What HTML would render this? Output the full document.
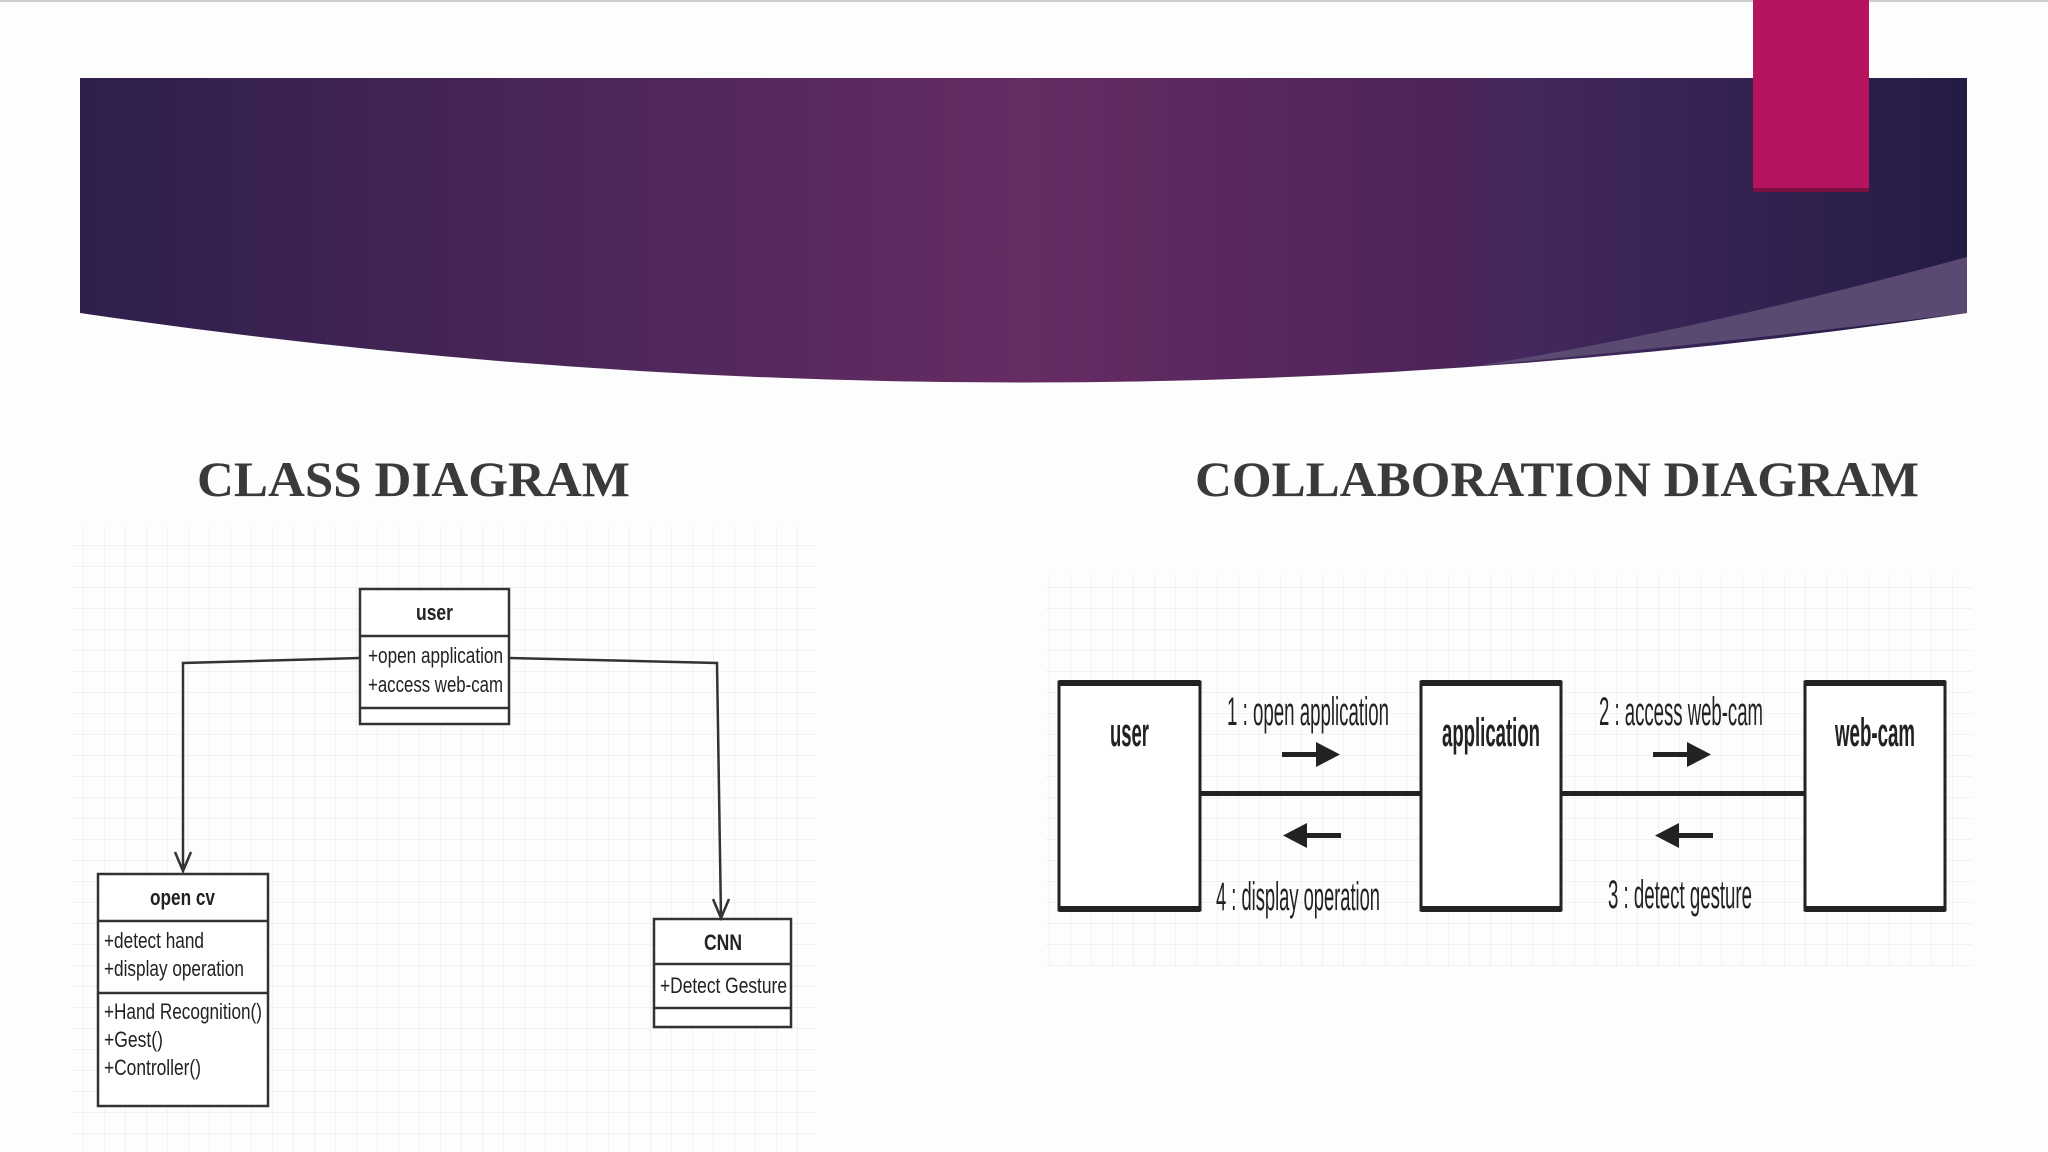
<!DOCTYPE html>
<html><head><meta charset="utf-8"><style>
html,body{margin:0;padding:0;background:#fff;}
svg{display:block}
</style></head><body>
<svg width="2048" height="1152" viewBox="0 0 2048 1152" xmlns="http://www.w3.org/2000/svg">
<defs>
<linearGradient id="bg" x1="0" x2="1" y1="0" y2="0">
<stop offset="0" stop-color="#2e1f4c"/>
<stop offset="0.25" stop-color="#4a2658"/>
<stop offset="0.5" stop-color="#662c64"/>
<stop offset="0.72" stop-color="#4e2458"/>
<stop offset="0.76" stop-color="#44285e"/>
<stop offset="1" stop-color="#241c45"/>
</linearGradient>
<pattern id="grid" width="21" height="21" patternUnits="userSpaceOnUse">
<path d="M21 0V21M0 21H21" stroke="#e6e6e6" stroke-width="1" fill="none"/>
</pattern>
</defs>
<rect width="2048" height="1152" fill="#fdfdfd"/>
<rect width="2048" height="2" fill="#ccc"/>
<path d="M80 78 H1967 V313 Q1024 452 80 313 Z" fill="url(#bg)"/>
<path d="M1967 257 Q1700 330 1476 366 Q1750 340 1967 313 Z" fill="#5a4a72"/>
<rect x="1753" y="0" width="116" height="192" fill="#b71460"/>
<rect x="1753" y="188" width="116" height="4" fill="#7a1040"/>
<g font-family="Liberation Serif, serif" font-weight="bold" fill="#3a3a3a" font-size="50">
<text x="197" y="496" textLength="433" lengthAdjust="spacingAndGlyphs">CLASS DIAGRAM</text>
<text x="1195" y="496" textLength="724" lengthAdjust="spacingAndGlyphs">COLLABORATION DIAGRAM</text>
</g>
<rect x="72" y="526" width="744" height="626" fill="url(#grid)"/>
<g fill="#fff" stroke="#333" stroke-width="2.5">
<rect x="360" y="589" width="149" height="135"/>
<rect x="98" y="874" width="170" height="232"/>
<rect x="654" y="919" width="137" height="108"/>
</g>
<g stroke="#333" stroke-width="2.5" fill="none">
<path d="M360 636H509M360 708H509M98 921H268M98 993H268M654 964H791M654 1008H791"/>
<path d="M360 658L183 663V871M175 852L183 871L191 852"/>
<path d="M509 658L717 663L721 918M713 899L721 918L729 899"/>
</g>
<g font-family="Liberation Sans, sans-serif" fill="#222" font-size="22" lengthAdjust="spacingAndGlyphs">
<text x="416" y="620" font-weight="bold" textLength="37" lengthAdjust="spacingAndGlyphs">user</text>
<text x="368" y="663" textLength="135" lengthAdjust="spacingAndGlyphs">+open application</text>
<text x="368" y="692" textLength="135" lengthAdjust="spacingAndGlyphs">+access web-cam</text>
<text x="150" y="905" font-weight="bold" textLength="65" lengthAdjust="spacingAndGlyphs">open cv</text>
<text x="104" y="948" textLength="100" lengthAdjust="spacingAndGlyphs">+detect hand</text>
<text x="104" y="976" textLength="140" lengthAdjust="spacingAndGlyphs">+display operation</text>
<text x="104" y="1019" textLength="158" lengthAdjust="spacingAndGlyphs">+Hand Recognition()</text>
<text x="104" y="1047" textLength="59" lengthAdjust="spacingAndGlyphs">+Gest()</text>
<text x="104" y="1075" textLength="97" lengthAdjust="spacingAndGlyphs">+Controller()</text>
<text x="704" y="950" font-weight="bold" textLength="38" lengthAdjust="spacingAndGlyphs">CNN</text>
<text x="660" y="993" textLength="127" lengthAdjust="spacingAndGlyphs">+Detect Gesture</text>
</g>
<rect x="1045" y="575" width="927" height="391" fill="url(#grid)"/>
<g fill="#fff" stroke="#222" stroke-width="3">
<rect x="1059" y="682" width="141" height="228"/>
<rect x="1421" y="682" width="140" height="228"/>
<rect x="1805" y="682" width="140" height="228"/>
</g>
<g fill="#222">
<rect x="1059" y="680" width="141" height="6"/><rect x="1059" y="906" width="141" height="6"/>
<rect x="1421" y="680" width="140" height="6"/><rect x="1421" y="906" width="140" height="6"/>
<rect x="1805" y="680" width="140" height="6"/><rect x="1805" y="906" width="140" height="6"/>
<rect x="1200" y="791" width="221" height="5"/>
<rect x="1561" y="791" width="244" height="5"/>
<rect x="1282" y="752" width="36" height="5"/><path d="M1316 742L1340 754.5L1316 767Z"/>
<rect x="1653" y="752" width="36" height="5"/><path d="M1687 742L1711 754.5L1687 767Z"/>
<rect x="1305" y="833" width="36" height="5"/><path d="M1307 823L1283 835.5L1307 848Z"/>
<rect x="1677" y="833" width="36" height="5"/><path d="M1679 823L1655 835.5L1679 848Z"/>
</g>
<g font-family="Liberation Sans, sans-serif" fill="#222" font-size="40">
<text x="1110" y="746" font-weight="bold" textLength="39" lengthAdjust="spacingAndGlyphs">user</text>
<text x="1442" y="746" font-weight="bold" textLength="98" lengthAdjust="spacingAndGlyphs">application</text>
<text x="1835" y="746" font-weight="bold" textLength="80" lengthAdjust="spacingAndGlyphs">web-cam</text>
<text x="1227" y="725" textLength="162" lengthAdjust="spacingAndGlyphs">1 : open application</text>
<text x="1599" y="725" textLength="164" lengthAdjust="spacingAndGlyphs">2 : access web-cam</text>
<text x="1216" y="910" textLength="164" lengthAdjust="spacingAndGlyphs">4 : display operation</text>
<text x="1608" y="908" textLength="144" lengthAdjust="spacingAndGlyphs">3 : detect gesture</text>
</g>
</svg>
</body></html>
